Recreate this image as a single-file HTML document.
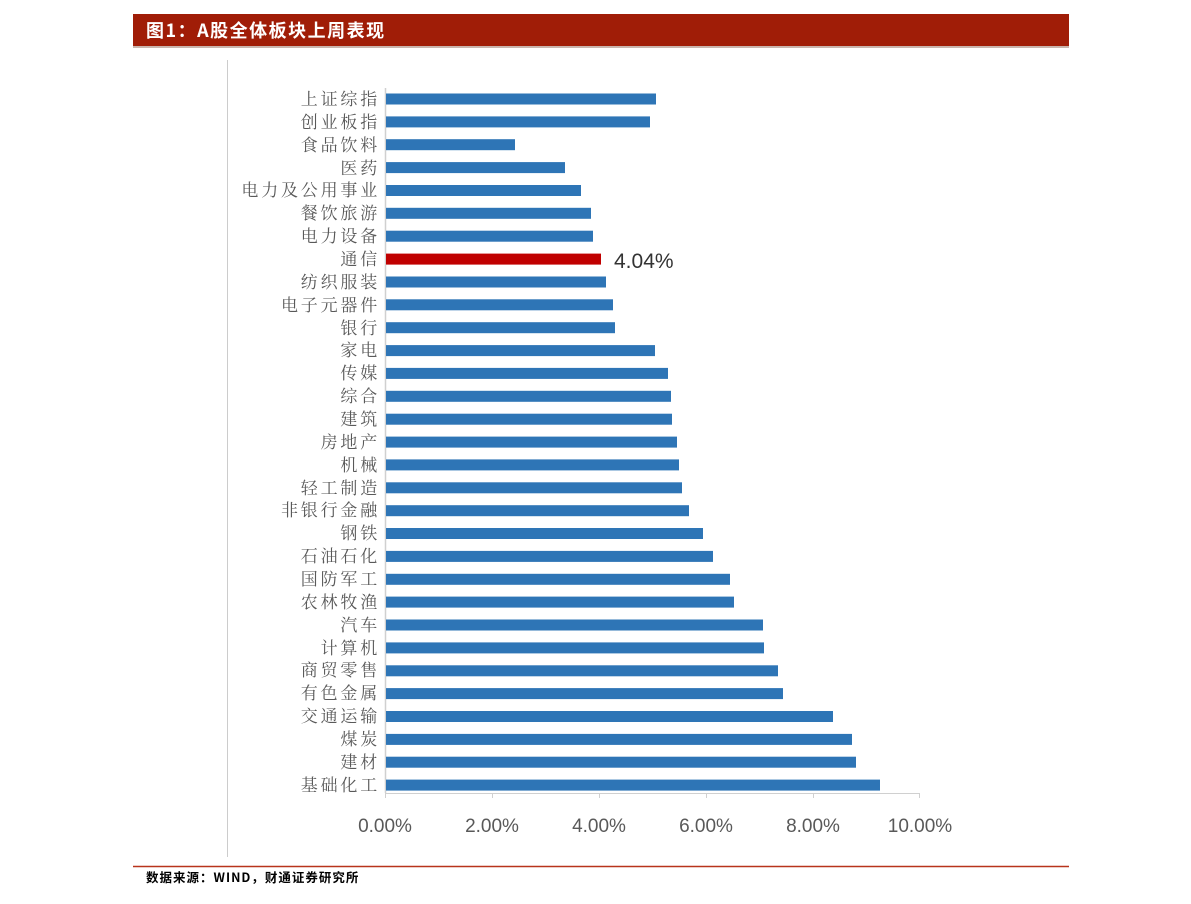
<!DOCTYPE html>
<html><head><meta charset="utf-8"><style>
html,body{margin:0;padding:0;background:#fff;}
svg{display:block;}
</style></head><body>
<svg width="1191" height="904" xmlns="http://www.w3.org/2000/svg">
<rect x="133" y="14" width="936" height="32" fill="#a01d07"/>
<rect x="133" y="46" width="936" height="2" fill="#c9b5ad"/>
<text x="146" y="37" font-family="Noto Sans CJK SC, sans-serif" font-weight="bold" font-size="18" fill="#fff" letter-spacing="1.5">图1：A股全体板块上周表现</text>
<line x1="227.5" y1="60" x2="227.5" y2="857" stroke="#ccc" stroke-width="1"/>
<line x1="385.5" y1="88" x2="385.5" y2="793" stroke="#d0d0d0" stroke-width="1.5"/>
<line x1="385" y1="793.5" x2="920" y2="793.5" stroke="#d0d0d0" stroke-width="1"/>
<g stroke="#d0d0d0" stroke-width="1">
<line x1="492.5" y1="793" x2="492.5" y2="798"/><line x1="599.5" y1="793" x2="599.5" y2="798"/><line x1="706.5" y1="793" x2="706.5" y2="798"/><line x1="813.5" y1="793" x2="813.5" y2="798"/><line x1="919.5" y1="793" x2="919.5" y2="798"/><line x1="385.5" y1="793" x2="385.5" y2="798"/>
</g>
<g font-family="Liberation Sans, sans-serif" font-size="19" fill="#595959" text-anchor="middle">
<text x="385" y="832">0.00%</text><text x="492" y="832">2.00%</text><text x="599" y="832">4.00%</text><text x="706" y="832">6.00%</text><text x="813" y="832">8.00%</text><text x="920" y="832">10.00%</text>
</g>
<text x="614" y="268" font-family="Liberation Sans, sans-serif" font-size="21" fill="#333">4.04%</text>
<line x1="133" y1="866.5" x2="1069" y2="866.5" stroke="#b8341c" stroke-width="1.5"/>
<text x="146" y="882" font-family="Noto Sans CJK SC, sans-serif" font-weight="bold" font-size="12.5" fill="#000" letter-spacing="1">数据来源：WIND，财通证券研究所</text>
<g font-family="Noto Serif CJK SC, serif" font-size="17" fill="#595959" text-anchor="end" letter-spacing="2.8">
<text x="380" y="105">上证综指</text><text x="380" y="128">创业板指</text><text x="380" y="151">食品饮料</text><text x="380" y="174">医药</text><text x="380" y="196">电力及公用事业</text><text x="380" y="219">餐饮旅游</text><text x="380" y="242">电力设备</text><text x="380" y="265">通信</text><text x="380" y="288">纺织服装</text><text x="380" y="311">电子元器件</text><text x="380" y="334">银行</text><text x="380" y="356">家电</text><text x="380" y="379">传媒</text><text x="380" y="402">综合</text><text x="380" y="425">建筑</text><text x="380" y="448">房地产</text><text x="380" y="471">机械</text><text x="380" y="494">轻工制造</text><text x="380" y="516">非银行金融</text><text x="380" y="539">钢铁</text><text x="380" y="562">石油石化</text><text x="380" y="585">国防军工</text><text x="380" y="608">农林牧渔</text><text x="380" y="631">汽车</text><text x="380" y="654">计算机</text><text x="380" y="676">商贸零售</text><text x="380" y="699">有色金属</text><text x="380" y="722">交通运输</text><text x="380" y="745">煤炭</text><text x="380" y="768">建材</text><text x="380" y="791">基础化工</text>
</g>
<g fill="#2e75b6">
<rect x="386" y="93.5" width="270" height="11"/>
<rect x="386" y="116.4" width="264" height="11"/>
<rect x="386" y="139.2" width="129" height="11"/>
<rect x="386" y="162.1" width="179" height="11"/>
<rect x="386" y="185" width="195" height="11"/>
<rect x="386" y="207.8" width="205" height="11"/>
<rect x="386" y="230.7" width="207" height="11"/>
<rect x="386" y="253.6" width="215" height="11" fill="#c00000"/>
<rect x="386" y="276.5" width="220" height="11"/>
<rect x="386" y="299.3" width="227" height="11"/>
<rect x="386" y="322.2" width="229" height="11"/>
<rect x="386" y="345.1" width="269" height="11"/>
<rect x="386" y="367.9" width="282" height="11"/>
<rect x="386" y="390.8" width="285" height="11"/>
<rect x="386" y="413.7" width="286" height="11"/>
<rect x="386" y="436.6" width="291" height="11"/>
<rect x="386" y="459.4" width="293" height="11"/>
<rect x="386" y="482.3" width="296" height="11"/>
<rect x="386" y="505.2" width="303" height="11"/>
<rect x="386" y="528" width="317" height="11"/>
<rect x="386" y="550.9" width="327" height="11"/>
<rect x="386" y="573.8" width="344" height="11"/>
<rect x="386" y="596.6" width="348" height="11"/>
<rect x="386" y="619.5" width="377" height="11"/>
<rect x="386" y="642.4" width="378" height="11"/>
<rect x="386" y="665.3" width="392" height="11"/>
<rect x="386" y="688.1" width="397" height="11"/>
<rect x="386" y="711" width="447" height="11"/>
<rect x="386" y="733.9" width="466" height="11"/>
<rect x="386" y="756.7" width="470" height="11"/>
<rect x="386" y="779.6" width="494" height="11"/>
</g>
</svg>
</body></html>
